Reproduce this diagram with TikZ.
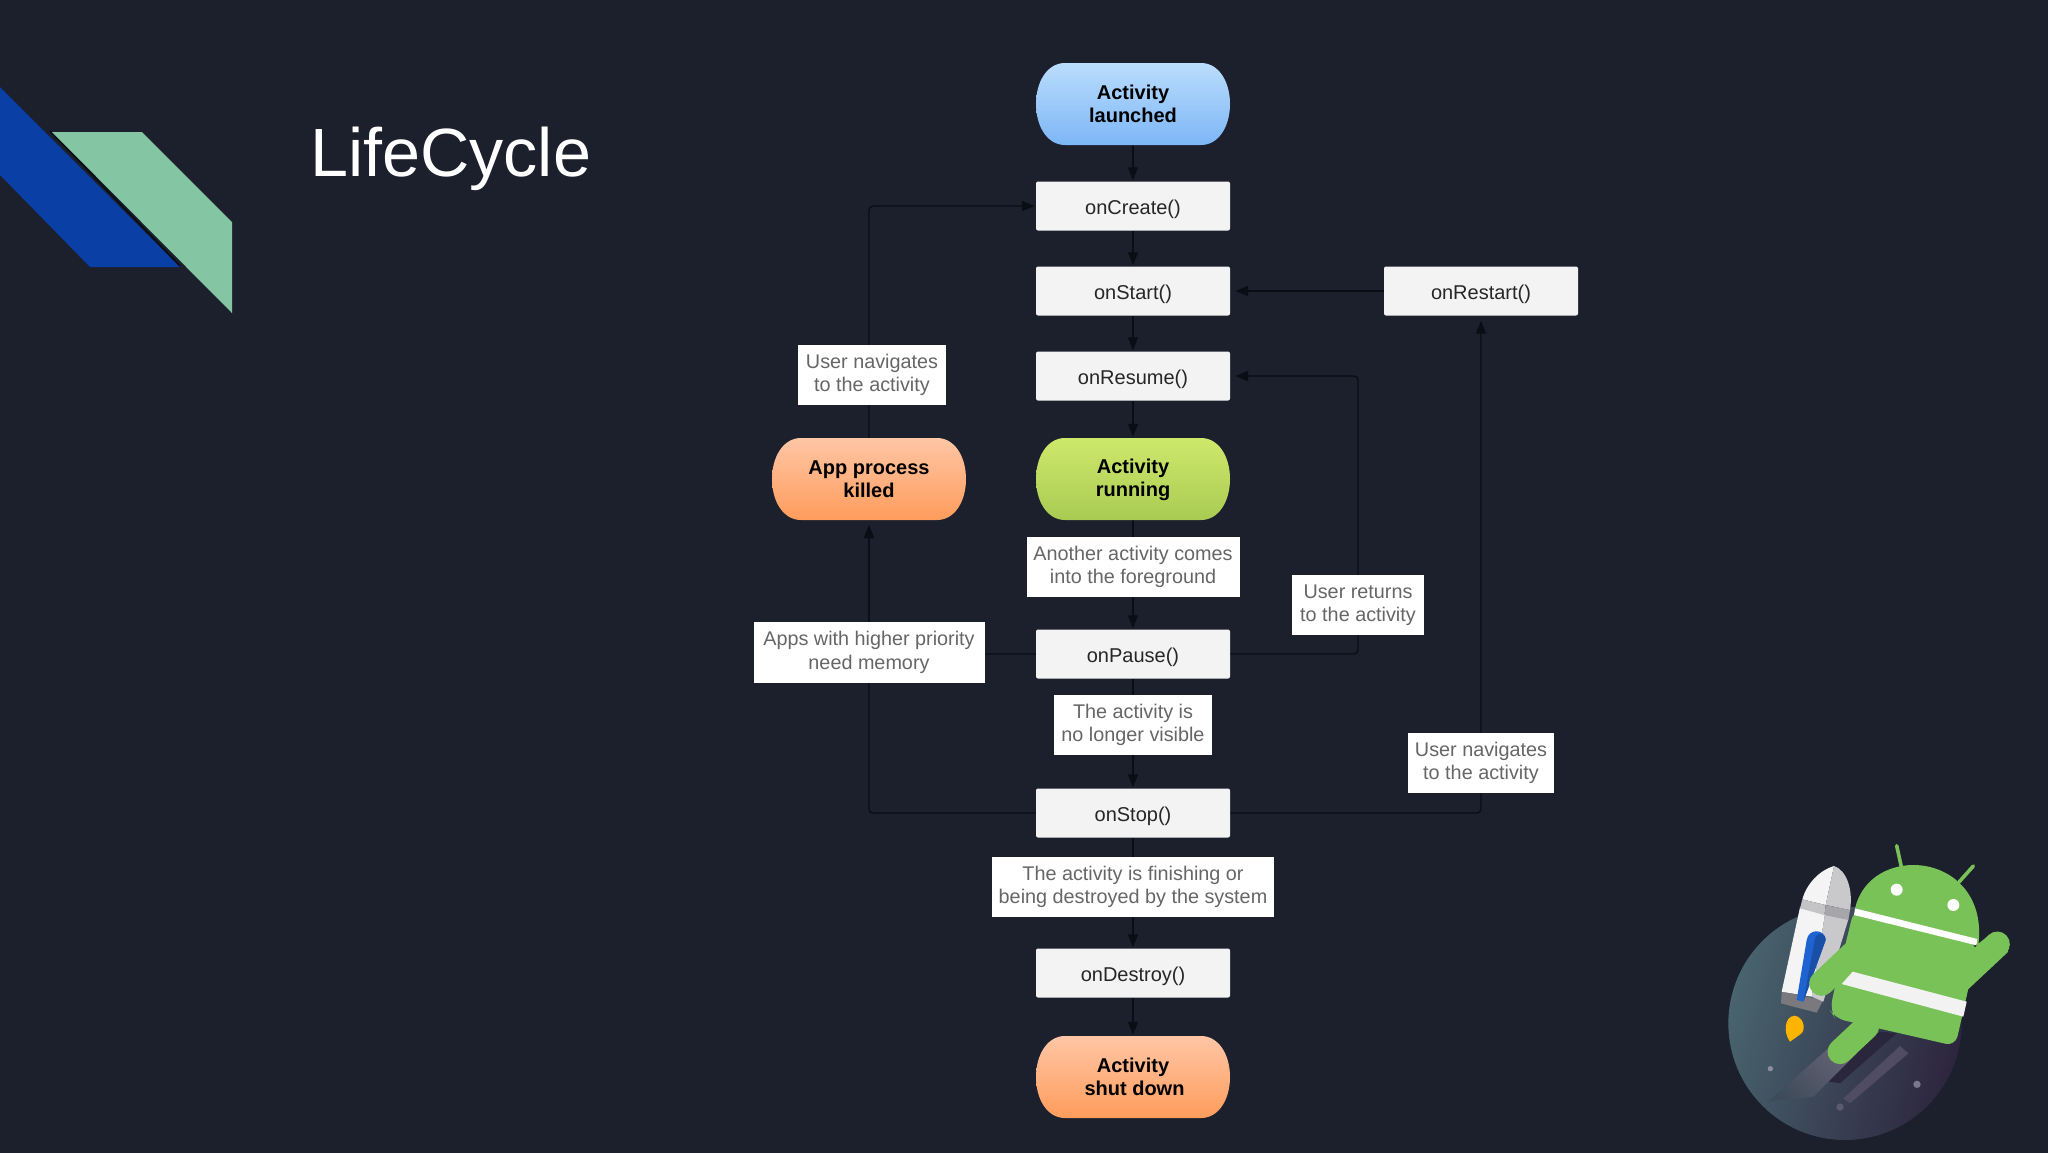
\documentclass[tikz,border=0pt]{standalone}
\usepackage{fontspec}
\setmainfont{Liberation Sans}
\usetikzlibrary{arrows.meta,backgrounds}
\definecolor{bgc}{HTML}{1C1F2C}
\definecolor{linec}{HTML}{0B0D15}
\definecolor{boxc}{HTML}{F4F3F4}
\definecolor{labc}{HTML}{666666}
\definecolor{droid}{HTML}{78C257}
\definecolor{bluetop}{HTML}{BADDFD}
\definecolor{bluebot}{HTML}{7DB6F6}
\definecolor{greentop}{HTML}{CDE96C}
\definecolor{greenbot}{HTML}{A9CB52}
\definecolor{orgtop}{HTML}{FFC6A5}
\definecolor{orgbot}{HTML}{FF9C5C}
\tikzset{
  flowbox/.style={rectangle,fill=boxc,rounded corners=2pt,minimum width=194pt,minimum height=49pt,inner sep=0pt,text=black!85,font=\fontsize{20}{23}\selectfont,text height=20pt,text depth=4pt,align=center},
  tagbox/.style={rectangle,fill=white,inner sep=0pt,text=labc,font=\fontsize{19.8}{23.4}\selectfont,align=center,execute at begin node={\rule{0pt}{25pt}}},
  capnode/.style={rectangle,minimum width=194pt,minimum height=82pt,inner sep=0pt,text=black,font=\fontsize{20}{23}\selectfont\bfseries,align=center},
  conn/.style={draw=linec,line width=1.4pt,rounded corners=4pt},
  arr/.style={conn,-{Triangle[length=13pt,width=10pt]},shorten >=1pt},
  arrgap/.style={conn,-{Triangle[length=13pt,width=10pt]},shorten >=5pt},
}
\newcommand{\capsule}[6]{%
  \begin{scope}[shift={(#2,#3)}]
    \shade[top color=#4,bottom color=#5] (-68,-41) -- (68,-41) .. controls (86,-41) and (97,-22) .. (97,0) .. controls (97,22) and (86,41) .. (68,41) -- (-68,41) .. controls (-86,41) and (-97,22) .. (-97,0) .. controls (-97,-22) and (-86,-41) .. (-68,-41) -- cycle;
  \end{scope}
  \node[capnode] (#1) at (#2,#3) {#6};
}
\begin{document}
\begin{tikzpicture}[x=1pt,y=-1pt]
\useasboundingbox (0,0) rectangle (2048,1152);
\begin{scope}[on background layer]
  \fill[bgc] (-3,-3) rectangle (2051,1155);
\end{scope}
% corner decoration
\fill[fill={rgb,255:red,10;green,63;blue,165}] (0,87) -- (180,267) -- (90,267) -- (0,175) -- cycle;
\draw[linec,line width=1.5pt] (50,131) -- (180,266);
\fill[fill={rgb,255:red,132;green,198;blue,163}] (52,132) -- (142,132) -- (232,222) -- (232,313) -- cycle;
% title
\node[anchor=base west,inner sep=0pt,text=white,font=\fontsize{68.3}{80}\selectfont] (title) at (310,176) {LifeCycle};
% capsules
\capsule{launched}{1133}{104}{bluetop}{bluebot}{Activity\\launched}
\capsule{running}{1133}{479}{greentop}{greenbot}{\rule{0pt}{17pt}Activity\\running}
\capsule{killed}{869}{479}{orgtop}{orgbot}{App process\\killed}
\capsule{shutdown}{1133}{1077}{orgtop}{orgbot}{Activity\\\hspace*{3pt}shut down}
% flow boxes
\node[flowbox] (create) at (1133,206) {onCreate()};
\node[flowbox] (start) at (1133,291) {onStart()};
\node[flowbox] (resume) at (1133,376) {onResume()};
\node[flowbox] (pause) at (1133,654) {onPause()};
\node[flowbox] (stop) at (1133,813) {onStop()};
\node[flowbox] (destroy) at (1133,973) {onDestroy()};
\node[flowbox] (restart) at (1481,291) {onRestart()};
% labels
\node[tagbox,minimum width=148pt,minimum height=60pt] (navl) at (872,375) {User navigates\\to the activity};
\node[tagbox,minimum width=213pt,minimum height=60pt] (another) at (1133,567) {Another activity comes\\into the foreground};
\node[tagbox,minimum width=231pt,minimum height=61pt] (memory) at (869,652.5) {Apps with higher priority\\need memory};
\node[tagbox,minimum width=132pt,minimum height=60pt] (returns) at (1358,605) {User returns\\to the activity};
\node[tagbox,minimum width=158pt,minimum height=60pt] (visible) at (1133,725) {The activity is\\no longer visible};
\node[tagbox,minimum width=146pt,minimum height=60pt] (navr) at (1481,763) {User navigates\\to the activity};
\node[tagbox,minimum width=282pt,minimum height=60pt] (finish) at (1133,887) {The activity is finishing or\\being destroyed by the system};
% connectors
\begin{scope}[on background layer]
  \draw[arr] (launched) -- (create);
  \draw[arr] (create) -- (start);
  \draw[arr] (start) -- (resume);
  \draw[arr] (resume) -- (running);
  \draw[arr] (running) -- (pause);
  \draw[arr] (pause) -- (stop);
  \draw[arr] (stop) -- (destroy);
  \draw[arr] (destroy) -- (shutdown);
  \draw[arrgap] (restart) -- (start);
  \draw[arr] (killed) |- (create);
  \draw[arrgap] (pause.west) -| (killed.south);
  \draw[arrgap] (stop.west) -| (killed.south);
  \draw[arrgap] (pause.east) -| (returns.center) |- (resume.east);
  \draw[arrgap] (stop.east) -| (restart.south);
\end{scope}
% rocket illustration
\begin{scope}[shift={(1680,820)},x=0.33333pt,y=-0.33333pt]
  \shade[left color={rgb,255:red,72;green,100;blue,110},middle color={rgb,255:red,54;green,62;blue,78},right color={rgb,255:red,45;green,37;blue,62},shading angle=75] (495,610) circle[radius=350];
  \fill[fill={rgb,255:red,42;green,38;blue,60}] (600,635) -- (650,640) -- (480,790) -- (420,780) -- cycle;
  \shade[left color={rgb,255:red,62;green,76;blue,90},right color={rgb,255:red,100;green,98;blue,116},shading angle=135] (450,680) -- (530,700) -- (400,830) -- (265,845) -- cycle;
  \fill[fill={rgb,255:red,80;green,76;blue,98}] (660,678) -- (685,700) -- (510,850) -- (490,835) -- cycle;
  \fill[fill={rgb,255:red,140;green,142;blue,160}] (271,746) circle[radius=8];
  \fill[fill={rgb,255:red,124;green,118;blue,144}] (711,793) circle[radius=11];
  \fill[fill={rgb,255:red,92;green,90;blue,112}] (480,861) circle[radius=11];
  % flame
  \fill[fill={rgb,255:red,251;green,180;blue,0}] (330,665) .. controls (310,640) and (312,590) .. (343,587) .. controls (370,590) and (378,625) .. (365,640) -- cycle;
  % rocket
  \fill[fill={rgb,255:red,122;green,122;blue,126}] (305,515) -- (303,550) -- (410,578) -- (430,540) -- cycle;
  \fill[fill={rgb,255:red,244;green,244;blue,245}] (360,262) -- (435,282) -- (395,530) -- (305,515) -- cycle;
  \fill[fill={rgb,255:red,201;green,201;blue,204}] (435,282) -- (505,298) -- (430,545) -- (395,530) -- cycle;
  \fill[fill={rgb,255:red,244;green,244;blue,245}] (462,138) .. controls (420,150) and (380,190) .. (367,238) -- (437,255) -- cycle;
  \fill[fill={rgb,255:red,201;green,201;blue,204}] (462,138) .. controls (500,150) and (520,210) .. (510,270) -- (437,255) -- cycle;
  \fill[fill={rgb,255:red,196;green,196;blue,198}] (367,238) -- (437,255) -- (433,285) -- (360,265) -- cycle;
  \fill[fill={rgb,255:red,166;green,166;blue,170}] (437,255) -- (510,270) -- (505,300) -- (433,285) -- cycle;
  \fill[fill={rgb,255:red,30;green,99;blue,208}] (350,540) -- (380,360) .. controls (385,325) and (435,325) .. (437,360) -- (370,545) -- cycle;
  \fill[fill={rgb,255:red,26;green,79;blue,168}] (370,545) -- (405,355) .. controls (415,332) and (437,340) .. (437,360) -- cycle;
  % android
  \draw[droid,line width=3.6pt,line cap=round] (650,77) -- (665,145);
  \draw[droid,line width=3.6pt,line cap=round] (880,138) -- (838,185);
  \fill[droid] (525,265) .. controls (545,180) and (620,135) .. (700,135) .. controls (810,135) and (915,220) .. (895,375) -- cycle;
  \fill[droid,rounded corners=10pt] (522,268) -- (893,372) -- (880,440) -- (826,678) -- (465,595) -- (450,570) -- (465,500) -- cycle;
  \fill[droid] (893,372) -- (930,345) -- (985,395) -- (860,512) -- (860,420) -- cycle;
  \draw[droid,line width=25pt,line cap=round] (952,372) -- (900,420);
  \draw[droid,line width=25pt,line cap=round] (425,490) -- (520,400);
  \draw[droid,line width=25pt,line cap=round] (480,695) -- (560,620);
  \fill[white] (525,265) -- (892,357) -- (889,376) -- (522,285) -- cycle;
  \fill[fill={rgb,255:red,242;green,242;blue,242}] (518,455) -- (860,545) -- (850,590) -- (485,492) -- cycle;
  \fill[white] (650,209) circle[radius=18];
  \fill[white] (820,255) circle[radius=18];
\end{scope}
\end{tikzpicture}
\end{document}
